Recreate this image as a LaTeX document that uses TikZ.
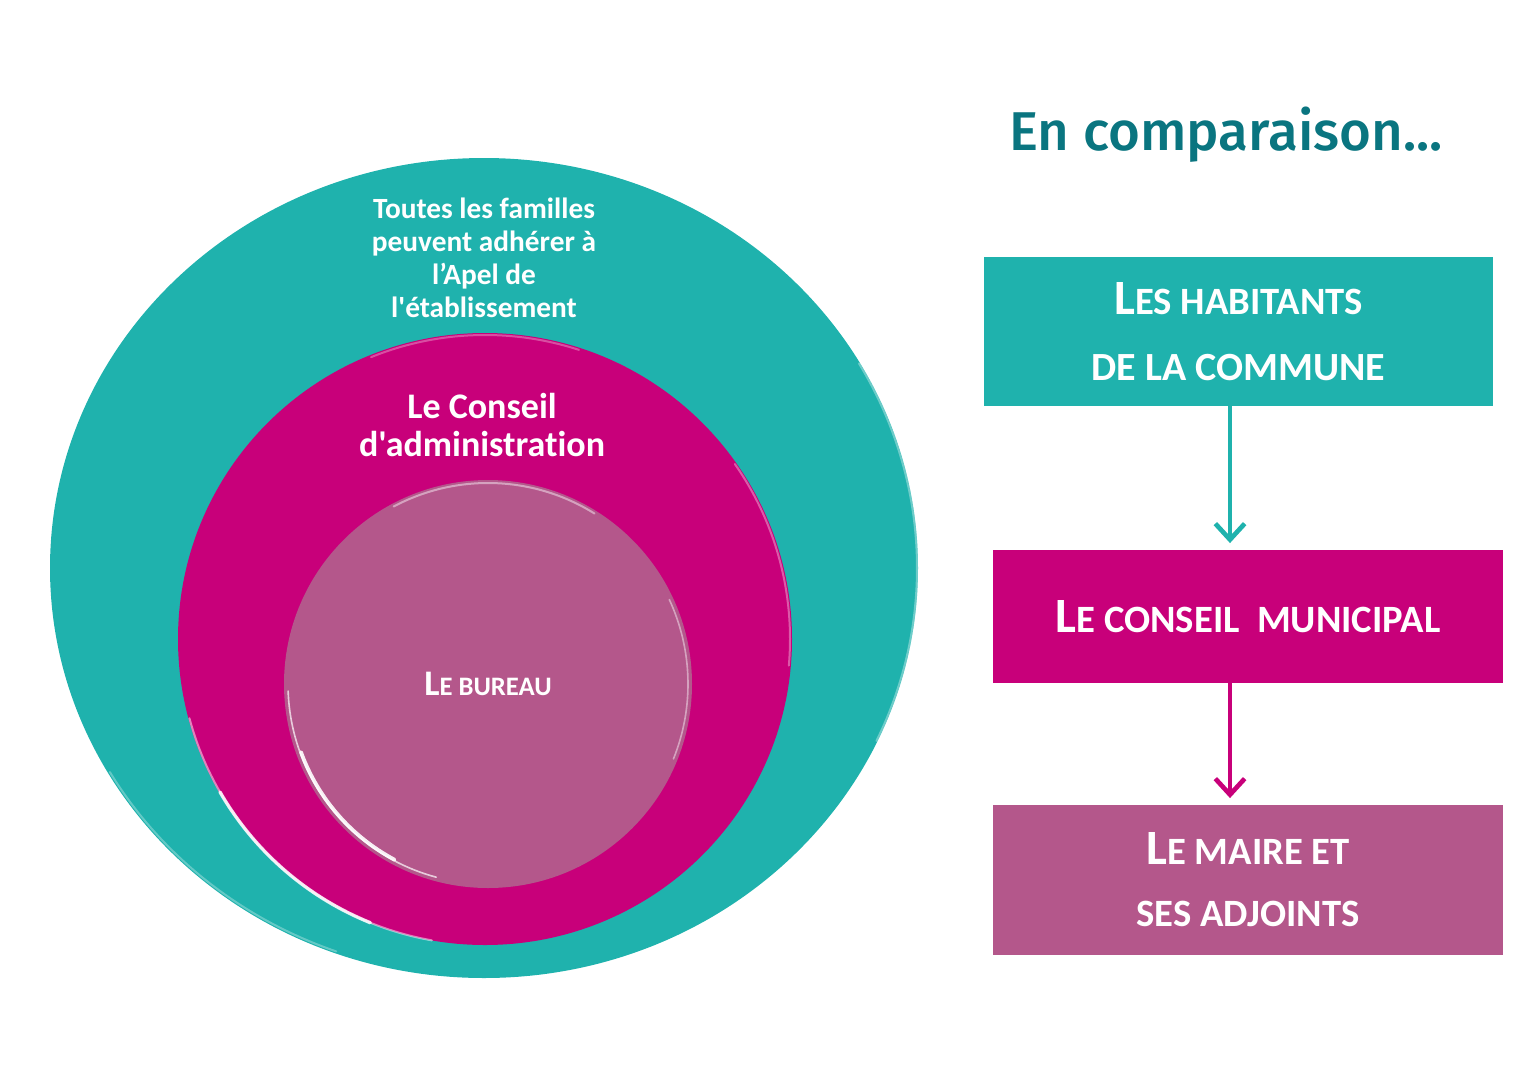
\documentclass[tikz,border=0pt]{standalone}
\usepackage{fontspec}
\setmainfont{Carlito}[Ligatures={TeXOff,NoCommon}]
\newfontfamily\titrefont{Fira Sans Medium}
\usepackage{xcolor}
\usetikzlibrary{positioning, arrows.meta, shapes.geometric}

\definecolor{turquoise}{RGB}{31,178,173}
\definecolor{fuchsia}{RGB}{200,0,122}
\definecolor{mauve}{RGB}{180,87,139}
\definecolor{petrole}{RGB}{10,117,128}

% petites capitales faites a la main
\newcommand{\pcap}[2]{{\fontsize{#1}{#1}\selectfont #2}}

\tikzset{
  rond/.style={ellipse, inner sep=0pt},
  boite/.style={rectangle, inner sep=0pt, align=center, text=white, font=\bfseries},
  texte/.style={text=white, align=center, font=\bfseries, inner sep=0.75pt},
  fleche/.style={line width=3.5pt, -{Straight Barb[length=12pt,width=22pt]}, shorten >=5pt},
  reflet/.style={white, line cap=round},
}

\begin{document}
\begin{tikzpicture}[x=0.75pt,y=0.75pt,yscale=-1,xscale=1]
\useasboundingbox (0,0) rectangle (1536,1086);

% les trois cercles
\node[rond, fill=turquoise, minimum width=651pt, minimum height=615pt] (apel) at (484,568) {};
\node[rond, fill=fuchsia, minimum width=460.5pt, minimum height=459pt] (conseil) at (485,639) {};
\node[rond, fill=mauve, minimum width=306pt, minimum height=306pt, texte] (bureau) at (488,684)
  {\fontsize{27pt}{27pt}\selectfont L\pcap{20pt}{E BUREAU}};

% reflets
\draw[reflet, line width=1.5pt, opacity=0.35] (apel.center) ++(-30:433 and 409)
  arc[start angle=-30, end angle=25, x radius=433, y radius=409];
\draw[reflet, line width=1.5pt, opacity=0.3] (apel.center) ++(110:432 and 408)
  arc[start angle=110, end angle=150, x radius=432, y radius=408];
\draw[reflet, line width=1.5pt, opacity=0.5] (conseil.center) ++(100:306)
  arc[start angle=100, end angle=165, radius=306];
\draw[reflet, line width=2.5pt, opacity=0.85] (conseil.center) ++(112:306)
  arc[start angle=112, end angle=150, radius=306];
\draw[reflet, line width=1.5pt, opacity=0.35] (conseil.center) ++(-35:305)
  arc[start angle=-35, end angle=5, radius=305];
\draw[reflet, line width=1.5pt, opacity=0.3] (conseil.center) ++(-112:304)
  arc[start angle=-112, end angle=-72, radius=304];
\draw[reflet, line width=1.5pt, opacity=0.45] (bureau.center) ++(-118:201)
  arc[start angle=-118, end angle=-58, radius=201];
\draw[reflet, line width=1.2pt, opacity=0.7] (bureau.center) ++(105:200)
  arc[start angle=105, end angle=178, radius=200];
\draw[reflet, line width=2.8pt, opacity=0.9] (bureau.center) ++(118:199)
  arc[start angle=118, end angle=160, radius=199];
\draw[reflet, line width=1.2pt, opacity=0.45] (bureau.center) ++(-25:200)
  arc[start angle=-25, end angle=22, radius=200];

% textes des cercles
\node[texte, font=\bfseries\fontsize{22pt}{24.75pt}\selectfont] (familles) at (484,258)
  {Toutes les familles\\peuvent adhérer à\\l’Apel de\\l'établissement};
\node[texte, font=\bfseries\fontsize{27pt}{28.5pt}\selectfont] (ca) at (482,425)
  {Le Conseil\\d'administration};

% titre
\node[anchor=base, text=petrole, font=\titrefont\fontsize{41pt}{43pt}\selectfont] (titre) at (1226,150)
  {En comparaison...};

% les boites
\node[boite, fill=turquoise, minimum width=381.75pt, minimum height=111.75pt,
  font=\bfseries\fontsize{37pt}{49.5pt}\selectfont] (habitants) at (1238.5,331.5)
  {L\pcap{29pt}{ES HABITANTS}\\\pcap{30pt}{DE LA COMMUNE}};
\node[boite, fill=fuchsia, minimum width=382.5pt, minimum height=99.75pt,
  font=\bfseries\fontsize{37pt}{40pt}\selectfont] (municipal) at (1248,616.5)
  {L\pcap{29pt}{E CONSEIL\ \ MUNICIPAL}};
\node[boite, fill=mauve, minimum width=382.5pt, minimum height=112.5pt,
  font=\bfseries\fontsize{37pt}{46.5pt}\selectfont] (maire) at (1248,880)
  {L\pcap{29pt}{E MAIRE ET}\\\pcap{29pt}{SES ADJOINTS}};

% fleches
\coordinate (axe) at (1230,0);
\draw[fleche, turquoise] (habitants.south -| axe) -- (municipal.north -| axe);
\draw[fleche, fuchsia] (municipal.south -| axe) -- (maire.north -| axe);

\end{tikzpicture}
\end{document}
